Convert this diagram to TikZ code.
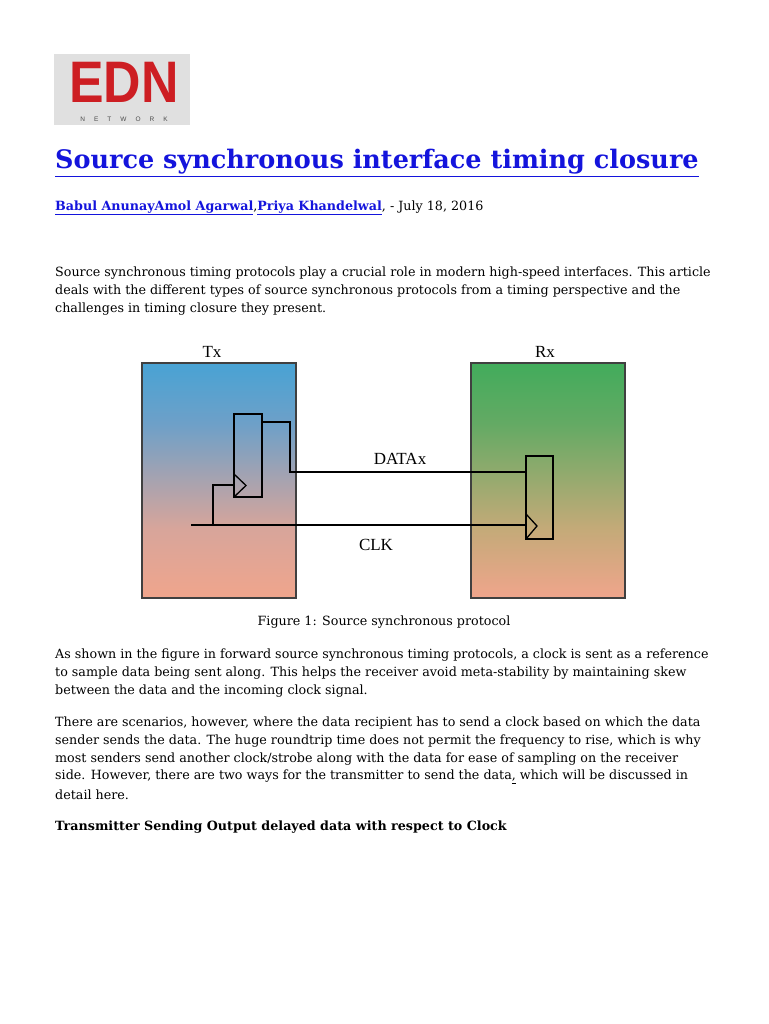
\documentclass[tikz,border=0pt]{standalone}
\usepackage{fontspec}
\setmainfont{DejaVu Serif}
\newfontfamily\logofont{Liberation Sans}
\usetikzlibrary{calc}
\definecolor{linkblue}{RGB}{20,20,220}
\definecolor{ednred}{RGB}{205,30,35}
\definecolor{sbot}{RGB}{245,200,180}
\definecolor{ssal}{RGB}{240,165,140}
\definecolor{tmid}{RGB}{215,165,155}
\definecolor{tup}{RGB}{110,160,200}
\definecolor{ttop}{RGB}{0,168,235}
\definecolor{rmid}{RGB}{195,170,120}
\definecolor{rup}{RGB}{100,170,100}
\definecolor{rtop}{RGB}{0,175,75}
\pgfdeclareverticalshading{txshade}{100bp}{color(0bp)=(sbot); color(25bp)=(ssal); color(40bp)=(tmid); color(62bp)=(tup); color(100bp)=(ttop)}
\pgfdeclareverticalshading{rxshade}{100bp}{color(0bp)=(sbot); color(25bp)=(ssal); color(40bp)=(rmid); color(62bp)=(rup); color(100bp)=(rtop)}
\tikzset{
  body/.style={anchor=west,inner sep=0pt,font=\fontsize{12.7}{14}\selectfont},
  wire/.style={line width=1.3pt,black},
  lbl/.style={inner sep=0pt,font=\fontspec{Liberation Serif}\fontsize{17}{18}\selectfont}
}
\begin{document}
\begin{tikzpicture}[x=1pt,y=-1pt]
\useasboundingbox (0,0) rectangle (768,1024);
% logo
\node[fill=black!12,minimum width=136pt,minimum height=71pt,inner sep=0pt] (logo) at (122,89.5) {};
\node[inner sep=0pt,text=ednred,font=\logofont\bfseries\fontsize{48}{48}\selectfont,xscale=1.08,yscale=1.22] (edn) at (124,82) {EDN};
\node[inner sep=0pt,text=black!70,font=\logofont\fontsize{6.5}{6.5}\selectfont] (net) at (124,119.5) {N\hspace{9pt}E\hspace{9pt}T\hspace{9pt}W\hspace{9pt}O\hspace{9pt}R\hspace{9pt}K};
% title
\node[anchor=west,inner sep=0pt,text=linkblue,font=\bfseries\fontsize{25.5}{28}\selectfont] (title) at (55,163) {\underline{Source synchronous interface timing closure}};
\node[body] (auth) at (55,208) {{\bfseries\color{linkblue}\underline{Babul AnunayAmol Agarwal}},{\bfseries\color{linkblue}\underline{Priya Khandelwal}}, - July 18, 2016};
\node[body] (p1a) at (55,273) {Source synchronous timing protocols play a crucial role in modern high-speed interfaces. This article};
\node[body] (p1b) at (55,291) {deals with the different types of source synchronous protocols from a timing perspective and the};
\node[body] (p1c) at (55,309) {challenges in timing closure they present.};
% figure
\path[shading=txshade,draw=black!75,line width=1.3pt] (142,363) rectangle (296,598);
\path[shading=rxshade,draw=black!75,line width=1.3pt] (471,363) rectangle (625,598);
\node[lbl] (tx) at (212,352) {Tx};
\node[lbl] (rx) at (545,352) {Rx};
\node[lbl] (datax) at (400,459) {DATAx};
\node[lbl] (clk) at (376,545) {CLK};
\draw[wire] (234,414) rectangle (262,497);
\draw[wire] (526,456) rectangle (553,539);
\coordinate (txq) at (262,422);
\coordinate (rxd) at (526,472);
\coordinate (clkin) at (191,525);
\coordinate (rxc) at (526,525);
\coordinate (txc) at (234,485);
\draw[wire] (txq) -- (290,422) -- (290,472) -- (rxd);
\draw[wire] (clkin) -- (rxc);
\draw[wire] (213,525) -- (213,485) -- (txc);
\draw[wire] (234,474) -- (246,485.5) -- (234,497);
\draw[wire] (526,514) -- (537,526) -- (526,539);
\node[inner sep=0pt,font=\fontsize{12.7}{14}\selectfont] (cap) at (384,622) {Figure 1: Source synchronous protocol};
\node[body] (p2a) at (55,655) {As shown in the figure in forward source synchronous timing protocols, a clock is sent as a reference};
\node[body] (p2b) at (55,673) {to sample data being sent along. This helps the receiver avoid meta-stability by maintaining skew};
\node[body] (p2c) at (55,691) {between the data and the incoming clock signal.};
\node[body] (p3a) at (55,723) {There are scenarios, however, where the data recipient has to send a clock based on which the data};
\node[body] (p3b) at (55,741) {sender sends the data. The huge roundtrip time does not permit the frequency to rise, which is why};
\node[body] (p3c) at (55,759) {most senders send another clock/strobe along with the data for ease of sampling on the receiver};
\node[body] (p3d) at (55,777) {side. However, there are two ways for the transmitter to send the data\underline{,} which will be discussed in};
\node[body] (p3e) at (55,795) {detail here.};
\node[body,font=\bfseries\fontsize{12.7}{14}\selectfont] (h) at (55,827) {Transmitter Sending Output delayed data with respect to Clock};
\end{tikzpicture}
\end{document}
